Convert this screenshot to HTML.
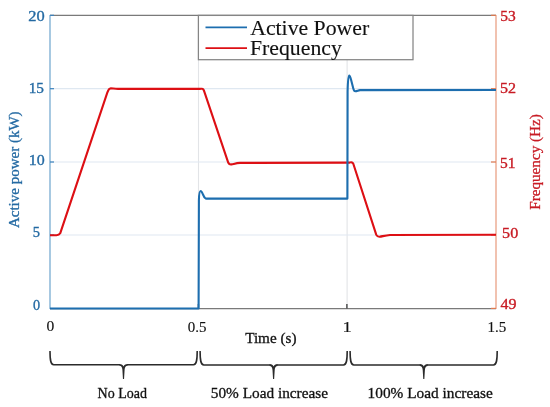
<!DOCTYPE html>
<html><head><meta charset="utf-8"><style>
html,body{margin:0;padding:0;background:#fff;}
svg{display:block;}
text{font-family:"Liberation Serif",serif;}
</style></head><body>
<svg width="550" height="407" viewBox="0 0 550 407">
<g stroke="#e2e4e7" stroke-width="1.1" fill="none">
<line x1="198.5" y1="15.2" x2="198.5" y2="308.2"/>
<line x1="347.1" y1="15.2" x2="347.1" y2="308.2"/>
</g>
<g stroke="#dfe8f1" stroke-width="1.2" fill="none">
<line x1="50" y1="88.6" x2="496" y2="88.6"/>
<line x1="50" y1="162" x2="496" y2="162"/>
<line x1="50" y1="235" x2="496" y2="235"/>
</g>
<line x1="50" y1="15.3" x2="496" y2="15.3" stroke="#7a7a7a" stroke-width="1.2"/>
<line x1="50" y1="308.6" x2="496" y2="308.6" stroke="#7a7a7a" stroke-width="1.2"/>
<line x1="50" y1="15" x2="50" y2="309" stroke="#9ec3de" stroke-width="1.8"/>
<g stroke="#3b82bd" stroke-width="1.2">
<line x1="50" y1="15.3" x2="54" y2="15.3"/>
<line x1="50" y1="88.7" x2="54" y2="88.7"/>
<line x1="50" y1="162" x2="54" y2="162"/>
<line x1="50" y1="235" x2="54" y2="235"/>
</g>
<line x1="496" y1="15" x2="496" y2="309" stroke="#f0bca8" stroke-width="1.8"/>
<g stroke="#e07a50" stroke-width="1.2">
<line x1="491" y1="15.3" x2="496" y2="15.3"/>
<line x1="491" y1="88.7" x2="496" y2="88.7"/>
<line x1="491" y1="162" x2="496" y2="162"/>
<line x1="491" y1="235" x2="496" y2="235"/>
<line x1="491" y1="308.4" x2="496" y2="308.4"/>
</g>
<g stroke="#444" stroke-width="1.4">
<line x1="198.4" y1="308.5" x2="198.4" y2="304"/>
<line x1="346.9" y1="308.5" x2="346.9" y2="304"/>
</g>
<path d="M50,235.2 L56.5,235.2 C58,235.2 59.3,234.8 60.2,233.3 L107.3,92.7 C108.2,90 109.2,88.4 110.8,88.3 C112.5,88.3 114.5,88.8 118,88.9 L200,88.9 C201,88.9 201.8,88.4 202.6,88.9 C203.1,89.2 203.5,89.6 203.8,90.2 L228.3,162.8 C229,164.3 230,164.6 231.5,164.4 C233.5,164.1 236,163.2 240,162.9 C250,162.6 280,162.6 349.5,162.6 C350.3,162.6 350.8,161.9 351.5,162.3 C352.2,162.6 352.8,163 353.3,163.7 L376.3,234.9 C377,236.3 378,236.8 379.7,236.7 C382,236.5 385,235.4 390,235 C400,234.7 420,234.7 496,234.7" fill="none" stroke="#dd0f14" stroke-width="2.1" stroke-linejoin="round"/>
<path d="M50,308.5 L198.6,308.5 L198.9,200 C199.1,193.5 199.6,191 200.6,191 C201.6,191 202.3,192.8 203,194.5 C203.8,196.5 204.6,198 205.5,198.4 C206.5,198.7 208,198.6 210,198.6 L347.4,198.6 L347.6,92 C347.8,80 348.4,75.6 349.2,75.6 C350,75.6 350.5,77.5 351,79.5 L353.3,88.5 C353.8,90.5 354.5,91.3 355.5,91.2 C357,91 358.5,90.3 360,90.1 C365,90 380,90 496,90" fill="none" stroke="#1d6eaf" stroke-width="2.1" stroke-linejoin="round"/>
<rect x="198.4" y="15.4" width="214.6" height="44.3" fill="#fff" stroke="#858585" stroke-width="1.25"/>
<line x1="205.5" y1="27.4" x2="247" y2="27.4" stroke="#1d6eaf" stroke-width="1.8"/>
<line x1="205.5" y1="48.2" x2="247" y2="48.2" stroke="#dd0f14" stroke-width="1.8"/>
<g fill="none" stroke="#2b2b2b" stroke-width="1.55">
<path d="M50.0,351.0 C50.0,358.8 50.3,364.8 53.8,364.8 L120.0,364.8 M127.0,364.8 L193.39999999999998,364.8 C196.89999999999998,364.8 197.2,358.8 197.2,351.0"/>
<path stroke="none" fill="#2b2b2b" d="M119.5,363.90000000000003 C121.7,363.90000000000003 123.0,365.0 123.5,366.40000000000003 C124.0,365.0 125.3,363.90000000000003 127.5,363.90000000000003 L127.5,365.7 C125.8,365.7 124.8,366.8 124.6,369.8 L124.05,379.0 L122.95,379.0 L122.4,369.8 C122.2,366.8 121.2,365.7 119.5,365.7 Z"/>
<path d="M200.1,351.0 C200.1,359.0 200.4,365.0 203.9,365.0 L270.1,365.0 M277.1,365.0 L343.4,365.0 C346.9,365.0 347.2,359.0 347.2,351.0"/>
<path stroke="none" fill="#2b2b2b" d="M269.6,364.1 C271.8,364.1 273.1,365.2 273.6,366.6 C274.1,365.2 275.40000000000003,364.1 277.6,364.1 L277.6,365.9 C275.90000000000003,365.9 274.90000000000003,367.0 274.70000000000005,370.0 L274.15000000000003,379.0 L273.05,379.0 L272.5,370.0 C272.3,367.0 271.3,365.9 269.6,365.9 Z"/>
<path d="M350.1,351.0 C350.1,359.0 350.40000000000003,365.0 353.90000000000003,365.0 L420.3,365.0 M427.3,365.0 L493.4,365.0 C496.9,365.0 497.2,359.0 497.2,351.0"/>
<path stroke="none" fill="#2b2b2b" d="M419.8,364.1 C422.0,364.1 423.3,365.2 423.8,366.6 C424.3,365.2 425.6,364.1 427.8,364.1 L427.8,365.9 C426.1,365.9 425.1,367.0 424.90000000000003,370.0 L424.35,379.0 L423.25,379.0 L422.7,370.0 C422.5,367.0 421.5,365.9 419.8,365.9 Z"/>
</g>
<text stroke="#246aa3" stroke-width="0.35" x="28.19" y="21.00" font-size="15" fill="#246aa3" textLength="16.44" lengthAdjust="spacingAndGlyphs">20</text>
<text stroke="#246aa3" stroke-width="0.35" x="28.73" y="92.80" font-size="15" fill="#246aa3" textLength="15.29" lengthAdjust="spacingAndGlyphs">15</text>
<text stroke="#246aa3" stroke-width="0.35" x="28.88" y="164.70" font-size="15" fill="#246aa3" textLength="15.94" lengthAdjust="spacingAndGlyphs">10</text>
<text stroke="#246aa3" stroke-width="0.35" x="32.79" y="236.83" font-size="15" fill="#246aa3" textLength="7.23" lengthAdjust="spacingAndGlyphs">5</text>
<text stroke="#246aa3" stroke-width="0.35" x="32.89" y="309.52" font-size="15" fill="#246aa3" textLength="7.12" lengthAdjust="spacingAndGlyphs">0</text>
<text stroke="#c81b24" stroke-width="0.35" x="500.22" y="21.04" font-size="15" fill="#c81b24" textLength="15.49" lengthAdjust="spacingAndGlyphs">53</text>
<text stroke="#c81b24" stroke-width="0.35" x="500.01" y="92.80" font-size="15" fill="#c81b24" textLength="16.09" lengthAdjust="spacingAndGlyphs">52</text>
<text stroke="#c81b24" stroke-width="0.35" x="500.03" y="167.80" font-size="15" fill="#c81b24" textLength="15.52" lengthAdjust="spacingAndGlyphs">51</text>
<text stroke="#c81b24" stroke-width="0.35" x="502.09" y="237.81" font-size="15" fill="#c81b24" textLength="16.13" lengthAdjust="spacingAndGlyphs">50</text>
<text stroke="#c81b24" stroke-width="0.35" x="500.58" y="308.73" font-size="15" fill="#c81b24" textLength="16.01" lengthAdjust="spacingAndGlyphs">49</text>
<text stroke="#111" stroke-width="0.15" x="46.58" y="330.60" font-size="15" fill="#111" textLength="7.77" lengthAdjust="spacingAndGlyphs">0</text>
<text stroke="#111" stroke-width="0.15" x="187.71" y="331.90" font-size="15" fill="#111" textLength="18.68" lengthAdjust="spacingAndGlyphs">0.5</text>
<text stroke="#111" stroke-width="0.15" x="342.55" y="331.90" font-size="15" fill="#111" textLength="9.23" lengthAdjust="spacingAndGlyphs">1</text>
<text stroke="#111" stroke-width="0.15" x="487.53" y="331.70" font-size="15" fill="#111" textLength="18.81" lengthAdjust="spacingAndGlyphs">1.5</text>
<text stroke="#111" stroke-width="0.12" x="250.19" y="34.80" font-size="21.3" fill="#111" textLength="118.99" lengthAdjust="spacingAndGlyphs">Active Power</text>
<text stroke="#111" stroke-width="0.12" x="249.97" y="54.70" font-size="21.3" fill="#111" textLength="91.83" lengthAdjust="spacingAndGlyphs">Frequency</text>
<text stroke="#111" stroke-width="0.3" x="245.16" y="342.50" font-size="14.8" fill="#111" textLength="51.36" lengthAdjust="spacingAndGlyphs">Time (s)</text>
<text stroke="#111" stroke-width="0.3" x="97.61" y="397.90" font-size="15" fill="#111" textLength="49.47" lengthAdjust="spacingAndGlyphs">No Load</text>
<text stroke="#111" stroke-width="0.3" x="210.78" y="397.60" font-size="15" fill="#111" textLength="117.29" lengthAdjust="spacingAndGlyphs">50% Load increase</text>
<text stroke="#111" stroke-width="0.3" x="367.58" y="397.60" font-size="15" fill="#111" textLength="125.23" lengthAdjust="spacingAndGlyphs">100% Load increase</text>
<text stroke="#246aa3" stroke-width="0.3" transform="translate(19.30,169.79) rotate(-90)" text-anchor="middle" font-size="15" fill="#246aa3" textLength="116.68" lengthAdjust="spacingAndGlyphs">Active power (kW)</text>
<text stroke="#c81b24" stroke-width="0.3" transform="translate(539.80,161.99) rotate(-90)" text-anchor="middle" font-size="15.3" fill="#c81b24" textLength="95.48" lengthAdjust="spacingAndGlyphs">Frequency (Hz)</text>
</svg>
</body></html>
